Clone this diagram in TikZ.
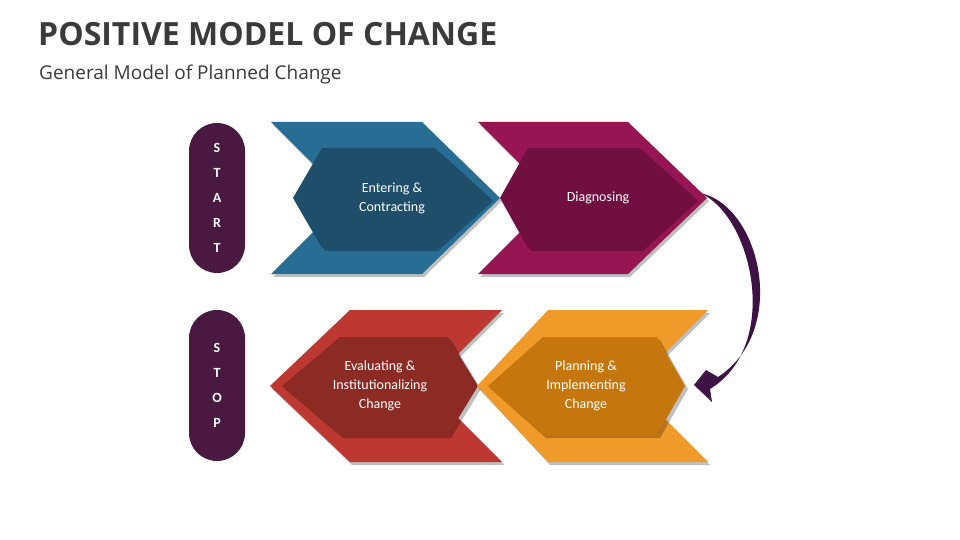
\documentclass[tikz,border=0pt]{standalone}
\usepackage{fontspec}
\setmainfont{Carlito}
\newfontfamily\titlefont{Open Sans}
\usetikzlibrary{arrows.meta}
\definecolor{blueo}{HTML}{276D94}\definecolor{bluei}{HTML}{1F4E6B}
\definecolor{mago}{HTML}{961552}\definecolor{magi}{HTML}{700F40}
\definecolor{redo}{HTML}{BC3830}\definecolor{redi}{HTML}{8C2A24}
\definecolor{orao}{HTML}{F09A2A}\definecolor{orai}{HTML}{C5770E}
\definecolor{pill}{HTML}{4A1942}\definecolor{arr}{HTML}{3E1245}
\definecolor{ttl}{HTML}{3A3A3A}
\tikzset{
 lbl/.style={text=white,font=\fontsize{14}{19}\selectfont,align=center},
 pilltxt/.style={text=white,font=\bfseries\fontsize{14}{25}\selectfont,align=center},
 shad/.style={fill=black,opacity=0.25}
}
\begin{document}
\begin{tikzpicture}[x=1pt,y=-1pt]
\useasboundingbox (0,0) rectangle (960,540);
\fill[white] (0,0) rectangle (960,540);
\node[anchor=base west,inner sep=0,text=ttl,font=\titlefont\bfseries\fontsize{32}{36}\selectfont] (title) at (38,46) {POSITIVE MODEL OF CHANGE};
\node[anchor=base west,inner sep=0,text=ttl,font=\titlefont\fontsize{19}{22}\selectfont] (sub) at (39,80) {General Model of Planned Change};
% pills
\fill[pill,rounded corners=28pt] (189,123) rectangle (245,273);
\node[pilltxt] (start) at (217,198) {S\\T\\A\\R\\T};
\fill[pill,rounded corners=28pt] (189,310) rectangle (245,461);
\node[pilltxt] (stop) at (217,385) {S\\T\\O\\P};
% top row
\fill[shad] (273,125)--(424,125)--(502,201)--(424,277)--(273,277)--(349,201)--cycle;
\fill[blueo] (271,122)--(422,122)--(500,198)--(422,274)--(271,274)--(347,198)--cycle;
\fill[shad] (296,201)--(325,151)--(438,151)--(493,201)--(438,251)--(325,251)--cycle;
\fill[bluei] (293,198)--(322,148)--(435,148)--(490,198)--(435,248)--(322,248)--cycle;
\node[lbl] (e) at (392,198) {Entering \&\\Contracting};
\fill[shad] (480,125)--(630,125)--(709,201)--(630,277)--(480,277)--(556,201)--cycle;
\fill[mago] (478,122)--(628,122)--(707,198)--(628,274)--(478,274)--(554,198)--cycle;
\fill[shad] (503,201)--(531,151)--(643,151)--(698,201)--(643,251)--(531,251)--cycle;
\fill[magi] (500,198)--(528,148)--(640,148)--(695,198)--(640,248)--(528,248)--cycle;
\node[lbl] (d) at (598,198) {Diagnosing};
% bottom row
\fill[shad] (352,313)--(504,313)--(428,389)--(504,465)--(352,465)--(272,389)--cycle;
\fill[redo] (350,310)--(502,310)--(426,386)--(502,462)--(350,462)--(270,386)--cycle;
\fill[shad] (285,389)--(343,340)--(451,340)--(481,389)--(451,438)--(343,438)--cycle;
\fill[redi] (282,386)--(340,337)--(448,337)--(478,386)--(448,435)--(340,435)--cycle;
\node[lbl] (v) at (380,386) {Evaluating \&\\Institutionalizing\\Change};
\fill[shad] (550,313)--(710,313)--(634,389)--(710,465)--(550,465)--(479,389)--cycle;
\fill[orao] (548,310)--(708,310)--(632,386)--(708,462)--(548,462)--(477,386)--cycle;
\fill[shad] (491,389)--(546,340)--(660,340)--(688,389)--(660,438)--(546,438)--cycle;
\fill[orai] (488,386)--(543,337)--(657,337)--(685,386)--(657,435)--(543,435)--cycle;
\node[lbl] (p) at (586,386) {Planning \&\\Implementing\\Change};
% arrow
\coordinate (a1) at (700,193);
\coordinate (a2) at (694,385);
\fill[arr] (a1) .. controls (760,205) and (790,330) .. (718,377)
  -- (706,370) -- (694,385) -- (712,402) -- (710,389)
  .. controls (782,345) and (752,215) .. (a1) -- cycle;
\end{tikzpicture}
\end{document}
